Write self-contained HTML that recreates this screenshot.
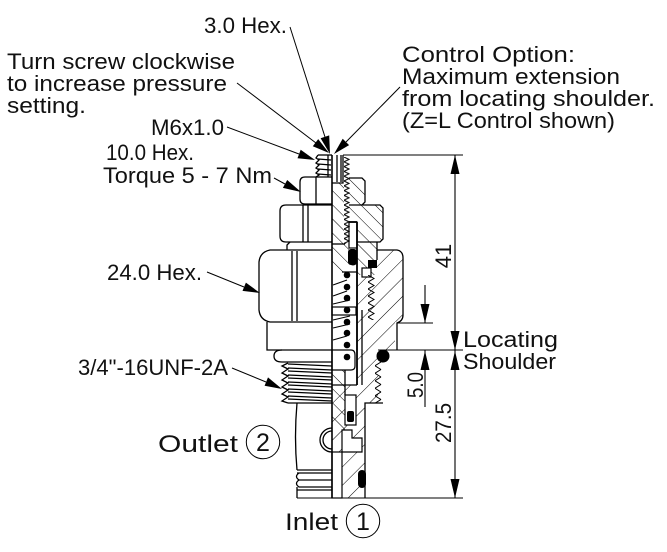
<!DOCTYPE html>
<html><head><meta charset="utf-8">
<style>
html,body{margin:0;padding:0;background:#fff;}
svg{display:block;}
text{font-family:"Liberation Sans",sans-serif;fill:#111;}
</style></head><body>
<svg width="667" height="552" viewBox="0 0 667 552" xmlns="http://www.w3.org/2000/svg">
<defs>
<pattern id="hb" width="10" height="10" patternUnits="userSpaceOnUse" patternTransform="rotate(-45)"><line x1="0" y1="0" x2="0" y2="10" stroke="#000" stroke-width="1"/></pattern>
<pattern id="hf" width="13" height="13" patternUnits="userSpaceOnUse" patternTransform="rotate(45)"><line x1="0" y1="0" x2="0" y2="13" stroke="#000" stroke-width="1"/></pattern>
<pattern id="zz1" x="344" y="157" width="6" height="4.8" patternUnits="userSpaceOnUse"><polyline points="0,0 5,2.4 0,4.8" fill="none" stroke="#000" stroke-width="1"/></pattern>
<pattern id="zz2" x="368" y="275" width="8" height="7" patternUnits="userSpaceOnUse"><polyline points="0,0 6,3.5 0,7" fill="none" stroke="#000" stroke-width="1"/></pattern>
<pattern id="zz3" x="375" y="362" width="8" height="7.5" patternUnits="userSpaceOnUse"><polyline points="6,0 0,3.75 6,7.5" fill="none" stroke="#000" stroke-width="1"/></pattern>
</defs>

<g stroke="none">
<polygon points="332,183 344,183 344,244 332,244" fill="url(#hb)"/>
<polygon points="349,178 362,178 365,181 365,202 362,205 349,205" fill="url(#hb)"/>
<polygon points="349,205 380,205 383,208 383,239 380,242 357,242 357,222 349,222" fill="url(#hb)"/>
<polygon points="332,244 349,244 349,272 332,272" fill="url(#hb)"/>
<polygon points="357,242 377,242 377,275 357,275" fill="url(#hb)"/>
<polygon points="377,250 397,250 403,256 403,317 397,322 395,322 395,350 357,350 357,275 377,275" fill="url(#hf)"/>
<polygon points="357,350 378,350 378,403 365,403 365,498 332,498 332,385 357,385" fill="url(#hf)"/>
<polygon points="332,370 345,370 345,430 332,430" fill="url(#hb)"/>
</g>

<g fill="#fff" stroke="#000" stroke-width="1.2">
<rect x="349" y="222" width="8" height="26"/>
<rect x="332" y="272" width="25" height="78" stroke="none"/>
<path d="M342,272 H357 V350"/>
<rect x="362" y="268" width="9" height="9"/>
<path d="M332,350 H351 Q355,350 355,355 V366 Q355,370 351,370 H332 Z"/>
<rect x="345" y="395" width="11" height="30"/>
<path d="M342,430 H352 V438 H362 V452 H342 Z"/>
<rect x="332" y="452" width="10" height="46"/>
<rect x="332" y="307" width="24" height="8"/>
</g>

<g fill="#000">
<rect x="348" y="249" width="9" height="16" rx="3"/>
<circle cx="353" cy="261" r="4.5"/>
<rect x="368" y="260" width="9" height="8"/>
<circle cx="383" cy="356" r="6.5"/>
<rect x="347" y="411" width="7" height="11" rx="2"/>
<rect x="358" y="470" width="8" height="18" rx="4"/>
</g>

<g stroke="#000" stroke-width="1.1" fill="none">
<line x1="333" y1="285" x2="347" y2="280"/>
<line x1="333" y1="296" x2="347" y2="291"/>
<line x1="333" y1="304" x2="350" y2="300"/>
<line x1="333" y1="320" x2="350" y2="316"/>
<line x1="333" y1="328" x2="350" y2="324"/>
<line x1="333" y1="340" x2="347" y2="336"/>
</g>
<g fill="#000">
<circle cx="347" cy="275" r="3.3"/><circle cx="347" cy="287" r="3.3"/>
<circle cx="347" cy="298" r="3.3"/><circle cx="347" cy="310" r="3.3"/>
<circle cx="347" cy="322" r="3.3"/><circle cx="347" cy="333" r="3.3"/>
<circle cx="347" cy="345" r="3.3"/><circle cx="347" cy="357" r="3.3"/>
</g>

<rect x="344" y="157" width="6" height="87" fill="url(#zz1)"/>
<rect x="368" y="275" width="8" height="45" fill="url(#zz2)"/>
<rect x="375" y="362" width="8" height="41" fill="url(#zz3)"/>

<g fill="none" stroke="#000" stroke-width="1.3">
<path d="M318,155 H332"/>
<path d="M318,155 L316,158 L319,160 L316,163 L319,165 L316,168 L319,170 L316,173 L319,175 L316,177"/>
<line x1="318" y1="159" x2="331" y2="160"/>
<line x1="318" y1="164" x2="331" y2="165"/>
<line x1="318" y1="169" x2="331" y2="170"/>
<line x1="318" y1="174" x2="331" y2="175"/>
<line x1="328" y1="155" x2="328" y2="177"/>
<path d="M332,177 H305 Q300,177 300,182 V199 Q300,204 305,204 H332"/>
<line x1="316" y1="177" x2="316" y2="204"/>
<path d="M332,205 H286 Q280,205 280,211 V236 Q280,242 286,242 H332"/>
<line x1="303" y1="205" x2="303" y2="242"/>
<line x1="308" y1="205" x2="308" y2="242"/>
<path d="M290,242 L287,245 V250"/>
<path d="M332,250 H270 Q260,252 259,262 V310 Q260,320 270,322 H332"/>
<line x1="292" y1="251" x2="292" y2="321"/>
<line x1="297" y1="251" x2="297" y2="321"/>
<path d="M267,322 V350 H332"/>
<path d="M282,350 Q274,350 274,356 Q274,362 282,362 H332"/>
<path d="M288,363 L282,366 L288,369 L282,373 L288,376 L282,380 L288,383 L282,387 L288,390 L282,394 L288,397 L282,401 L288,403"/>
<line x1="288" y1="364" x2="332" y2="366"/>
<line x1="288" y1="368" x2="332" y2="370"/>
<line x1="288" y1="371" x2="332" y2="373"/>
<line x1="288" y1="375" x2="332" y2="377"/>
<line x1="288" y1="378" x2="332" y2="380"/>
<line x1="288" y1="382" x2="332" y2="384"/>
<line x1="288" y1="385" x2="332" y2="387"/>
<line x1="288" y1="389" x2="332" y2="391"/>
<line x1="288" y1="392" x2="332" y2="394"/>
<line x1="288" y1="396" x2="332" y2="398"/>
<line x1="288" y1="399" x2="332" y2="401"/>
<path d="M288,403 H332"/>
<path d="M297,403 Q294,437 297,470"/>
<line x1="297" y1="470" x2="332" y2="470"/>
<line x1="297" y1="473" x2="332" y2="473"/>
<path d="M299,473 Q294,476.5 299,480 H332"/>
<path d="M299,480 Q294,483.5 299,487 H332"/>
<path d="M297,487 V498"/>
<line x1="297" y1="490" x2="332" y2="490"/>
<path d="M332,428 A12,12 0 0 0 332,452"/>
<path d="M332,431 A9,9 0 0 0 332,449"/>

<path d="M343,155 V183 H332"/>
<line x1="337" y1="155" x2="337" y2="182"/>
<line x1="341" y1="155" x2="341" y2="182"/>
<path d="M349,178 H362 L365,181 V202 L362,205"/>
<path d="M349,205 H380 L383,208 V239 L380,242 H357"/>
<path d="M377,242 V250 H397 Q403,251 403,258 V315 Q403,321 397,323 V350"/>
<path d="M383,403 H365 V498"/>
<line x1="332" y1="244" x2="345" y2="244"/>
<line x1="357" y1="222" x2="357" y2="385" stroke-width="1.8"/>
<line x1="349" y1="222" x2="357" y2="222" stroke-width="1.8"/>
<line x1="362" y1="310" x2="362" y2="385"/>
<line x1="377" y1="250" x2="377" y2="260"/>
<line x1="345" y1="370" x2="345" y2="395"/>
<line x1="332" y1="385" x2="357" y2="385"/>
<line x1="332" y1="155" x2="332" y2="498" stroke-width="1.6"/>
</g>

<g stroke="#000" stroke-width="1.1" fill="none">
<line x1="343" y1="155" x2="463" y2="155"/>
<line x1="397" y1="323" x2="433" y2="323"/>
<line x1="378" y1="350" x2="463" y2="350"/>
<line x1="297" y1="498" x2="463" y2="498"/>
<line x1="455" y1="155" x2="455" y2="498"/>
<line x1="425" y1="285" x2="425" y2="323"/>
<line x1="425" y1="350" x2="425" y2="407"/>
</g>
<g fill="#000">
<polygon points="455,155 450.5,174 459.5,174"/>
<polygon points="455,350 450.5,331 459.5,331"/>
<polygon points="455,351 450.5,370 459.5,370"/>
<polygon points="455,498 450.5,479 459.5,479"/>
<polygon points="425,323 420.5,304 429.5,304"/>
<polygon points="425,351 420.5,370 429.5,370"/>
</g>

<g stroke="#000" stroke-width="1" fill="none">
<line x1="290" y1="27" x2="325" y2="137"/>
<line x1="237" y1="83" x2="316" y2="143"/>
<line x1="400" y1="87" x2="346" y2="142"/>
<line x1="227" y1="127" x2="299" y2="154"/>
<line x1="274" y1="178" x2="285" y2="184"/>
<line x1="207" y1="272" x2="244" y2="287"/>
<line x1="232" y1="368" x2="266" y2="382"/>
</g>
<g fill="#000">
<polygon points="330,154 320.6,138.2 329.2,135.4"/>
<polygon points="329,153 312.8,146.3 318.2,139.1"/>
<polygon points="334,154 342.7,138.7 349.1,145.1"/>
<polygon points="315,160 297.5,158.2 300.7,149.8"/>
<polygon points="301,192 282.9,187.9 287.2,180"/>
<polygon points="260,293 242.5,290.9 245.9,282.6"/>
<polygon points="282,389 264.6,385.7 268,377.4"/>
</g>

<g font-size="22">
<text x="204" y="33" textLength="83" lengthAdjust="spacingAndGlyphs">3.0 Hex.</text>
<text x="7" y="69" textLength="228" lengthAdjust="spacingAndGlyphs">Turn screw clockwise</text>
<text x="7" y="91" textLength="220" lengthAdjust="spacingAndGlyphs">to increase pressure</text>
<text x="7" y="113" textLength="79" lengthAdjust="spacingAndGlyphs">setting.</text>
<text x="151" y="135" textLength="73" lengthAdjust="spacingAndGlyphs">M6x1.0</text>
<text x="106" y="160" textLength="88" lengthAdjust="spacingAndGlyphs">10.0 Hex.</text>
<text x="103" y="183" textLength="169" lengthAdjust="spacingAndGlyphs">Torque 5 - 7 Nm</text>
<text x="402" y="62" textLength="173" lengthAdjust="spacingAndGlyphs">Control Option:</text>
<text x="402" y="84" textLength="218" lengthAdjust="spacingAndGlyphs">Maximum extension</text>
<text x="402" y="106" textLength="253" lengthAdjust="spacingAndGlyphs">from locating shoulder.</text>
<text x="402" y="128" textLength="213" lengthAdjust="spacingAndGlyphs">(Z=L Control shown)</text>
<text x="107" y="280" textLength="95" lengthAdjust="spacingAndGlyphs">24.0 Hex.</text>
<text x="78" y="375" textLength="150" lengthAdjust="spacingAndGlyphs">3/4"-16UNF-2A</text>
<text x="463" y="347" textLength="95" lengthAdjust="spacingAndGlyphs">Locating</text>
<text x="463" y="369" textLength="93" lengthAdjust="spacingAndGlyphs">Shoulder</text>
<text transform="translate(451,256) rotate(-90)" text-anchor="middle">41</text>
<text transform="translate(423,385) rotate(-90)" text-anchor="middle" textLength="26" lengthAdjust="spacingAndGlyphs">5.0</text>
<text transform="translate(451,423) rotate(-90)" text-anchor="middle" textLength="40" lengthAdjust="spacingAndGlyphs">27.5</text>
</g>
<g font-size="24">
<text x="158" y="452" textLength="80" lengthAdjust="spacingAndGlyphs">Outlet</text>
<text x="285" y="530" textLength="53" lengthAdjust="spacingAndGlyphs">Inlet</text>
<text x="263" y="451" text-anchor="middle" font-size="25">2</text>
<text x="363" y="530" text-anchor="middle" font-size="25">1</text>
</g>
<circle cx="263" cy="442" r="16.7" fill="none" stroke="#000" stroke-width="1"/>
<circle cx="363" cy="521" r="16.7" fill="none" stroke="#000" stroke-width="1"/>
</svg>
</body></html>
